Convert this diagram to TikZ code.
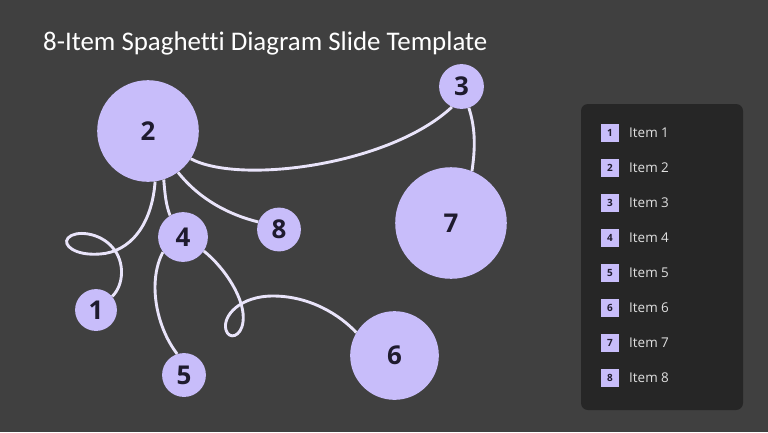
\documentclass[tikz,border=0pt]{standalone}
\usepackage{fontspec}
\setmainfont{Open Sans}
\newfontfamily\titlefont[Ligatures=NoCommon]{Carlito}
\definecolor{slate}{HTML}{404040}
\definecolor{panel}{HTML}{262626}
\definecolor{lilac}{HTML}{C8BDFA}
\definecolor{noodle}{HTML}{E9E4FA}
\definecolor{ink}{HTML}{1F1B2E}
\tikzstyle{spot}=[shape=circle,
                  fill=lilac,
                  text=ink,
                  inner sep=0pt,
                  font=\bfseries\fontsize{26}{26}\selectfont]
\tikzstyle{key}=[shape=rectangle,
                 fill=lilac,
                 text=ink,
                 inner sep=0pt,
                 minimum size=18bp,
                 font=\bfseries\fontsize{10}{10}\selectfont]
\tikzstyle{keytext}=[anchor=west,
                     text=black!12,
                     inner sep=0pt,
                     font=\fontsize{13.5}{13.5}\selectfont]
\tikzstyle{noodle}=[draw=noodle,line width=2.9]

\begin{document}
\begin{tikzpicture}[x=1bp,y=-1bp]

\fill[slate] (0,0) rectangle (768,432);
\useasboundingbox (0,0) rectangle (768,432);

\node[anchor=base west,text=white!95,inner sep=0pt,font=\titlefont\fontsize{27}{27}\selectfont]
  (title) at (43,50) {8-Item Spaghetti Diagram Slide Template};

\node[spot,minimum size=102] (s2) at (148,131)   {2};
\node[spot,minimum size=45]  (s3) at (461.5,86.5) {3};
\node[spot,minimum size=112] (s7) at (451,223)   {7};
\node[spot,minimum size=44]  (s8) at (279,229.5) {8};
\node[spot,minimum size=50]  (s4) at (183,237)   {4};
\node[spot,minimum size=42]  (s1) at (96,310)    {1};
\node[spot,minimum size=44]  (s5) at (184,375)   {5};
\node[spot,minimum size=89]  (s6) at (394.5,355.5) {6};

\draw[noodle] (s2.-33) .. controls (240,185) and (390,165) .. (s3.-115);
\draw[noodle] (s3.-71) .. controls (476,130) and (475,150) .. (s7.68);
\draw[noodle] (s2.-54) .. controls (200,200) and (230,215) .. (s8.160);
\draw[noodle] (s2.-72) .. controls (165,195) and (166,205) .. (s4.121);
\draw[noodle] (s2.-82) .. controls (152,225) and (130,252) .. (100,254)
                       .. controls (75,256) and (62,245) .. (68,238)
                       .. controls (75,230) and (100,232) .. (113,248)
                       .. controls (125,262) and (124,285) .. (s1.40);
\draw[noodle] (s4.-143) .. controls (148,280) and (155,325) .. (s5.108);
\draw[noodle] (s4.-34) .. controls (225,268) and (246,300) .. (243,322)
                       .. controls (241,337) and (229,340) .. (226,330)
                       .. controls (222,316) and (240,296) .. (273,296)
                       .. controls (310,296) and (340,315) .. (s6.149);

\fill[panel,rounded corners=7] (581,104) rectangle (743,410);
\foreach \i in {1,...,8}{
  \node[key] (k\i) at (610,{98+35*\i}) {\i};
  \node[keytext] (t\i) at (629,{98+35*\i}) {Item \i};
}
\end{tikzpicture}
\end{document}
